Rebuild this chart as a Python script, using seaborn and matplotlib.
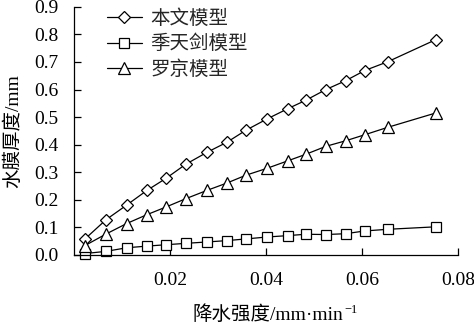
import matplotlib
matplotlib.use("Agg")
import matplotlib.pyplot as plt
import seaborn as sns
import pandas as pd

x = [0.0023, 0.0067, 0.0110, 0.0152, 0.0192, 0.0233, 0.0277, 0.0319, 0.0358,
     0.0402, 0.0445, 0.0483, 0.0525, 0.0566, 0.0606, 0.0654, 0.0754]
y_this = [0.058, 0.128, 0.181, 0.234, 0.278, 0.329, 0.372, 0.409, 0.452,
          0.493, 0.530, 0.561, 0.600, 0.632, 0.669, 0.701, 0.781]
y_ji = [0.005, 0.013, 0.026, 0.032, 0.037, 0.042, 0.047, 0.052, 0.058,
        0.065, 0.070, 0.075, 0.074, 0.077, 0.087, 0.093, 0.102]
y_luo = [0.034, 0.076, 0.114, 0.146, 0.174, 0.204, 0.234, 0.261, 0.289,
         0.314, 0.341, 0.365, 0.394, 0.414, 0.436, 0.463, 0.515]
names = ["本文模型", "季天剑模型", "罗京模型"]
xticks = [0.02, 0.04, 0.06, 0.08]
yticks = [0.0, 0.1, 0.2, 0.3, 0.4, 0.5, 0.6, 0.7, 0.8, 0.9]
xlabel_main = "降水强度/mm·min"
xlabel_sup = "−1"
ylabel = "水膜厚度/mm"

sns.set_theme(style="ticks")
plt.rcParams['font.family'] = ['Liberation Serif', 'Noto Sans CJK SC']
plt.rcParams['axes.unicode_minus'] = False

fig = plt.figure(figsize=(4.74, 3.26), dpi=100)
ax = fig.add_axes([0.156, 0.218, 0.81, 0.761])

series = [(y_this, "D", 6.0), (y_ji, "s", 7.5), (y_luo, "^", 8.5)]
for (ys, mk, ms), name in zip(series, names):
    df = pd.DataFrame({"x": x, "y": ys})
    sns.lineplot(data=df, x="x", y="y", ax=ax, color="black", linewidth=0.9,
                 marker=mk, markersize=ms, markerfacecolor="white",
                 markeredgecolor="black", markeredgewidth=0.9,
                 label=name, clip_on=False)

ax.set_xlim(0, 0.08)
ax.set_ylim(0, 0.9)
ax.set_xticks(xticks)
ax.set_xticklabels([f"{v:.2f}" for v in xticks])
ax.set_yticks(yticks)
ax.set_yticklabels([f"{v:.1f}" for v in yticks])
ax.tick_params(direction="in", length=5, width=0.9, labelsize=14, colors="black", pad=11)
ax.tick_params(axis="x", pad=12)
sns.despine(ax=ax)
for s in ["left", "bottom"]:
    ax.spines[s].set_linewidth(0.9)
    ax.spines[s].set_color("black")

ax.set_xlabel(xlabel_main, fontsize=14, color="black")
ax.set_ylabel(ylabel, fontsize=14, color="black", labelpad=9)
ax.xaxis.set_label_coords(0.505, -0.203)

leg = ax.legend(loc="upper left", bbox_to_anchor=(0.04, 1.06), frameon=False,
                fontsize=14, handlelength=1.8, handletextpad=0.45, labelspacing=0.35)

fig.canvas.draw()
bb = ax.xaxis.label.get_window_extent()
inv = fig.transFigure.inverted()
x1, y1 = inv.transform((bb.x1, bb.y1))
fig.text(x1 + 0.002, y1 + 0.004, xlabel_sup, fontsize=9, color="black",
         ha="left", va="top")

fig.savefig("out.png", dpi=100)
